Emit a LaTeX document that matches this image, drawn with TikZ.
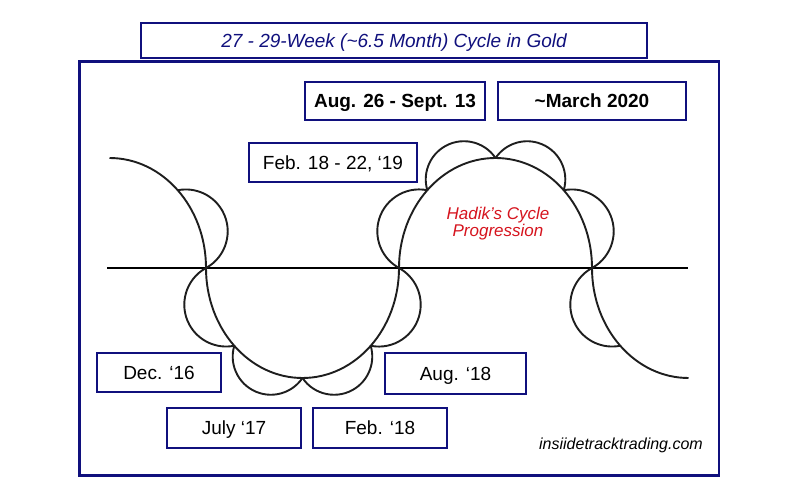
\documentclass[tikz,border=0pt]{standalone}
\usepackage{fontspec}
\setmainfont{Liberation Sans}
\usetikzlibrary{calc}
\definecolor{navy}{RGB}{16,16,125}
\definecolor{hred}{RGB}{214,20,30}
\definecolor{ink}{RGB}{30,30,30}
\begin{document}
\begin{tikzpicture}[x=1pt,y=1pt,
  lbl/.style={draw=navy,line width=2pt,inner sep=0pt,text height=13.6pt,text depth=0pt,
    font=\fontsize{19}{22}\selectfont},
  curve/.style={draw=ink,line width=1.9pt},
]
\useasboundingbox (0,0) rectangle (797,500);
\fill[white] (0,0) rectangle (797,500);
% frame
\draw[navy,line width=2.4pt] (79,438.5) rectangle (719,24.3);
\draw[navy,line width=3pt] (79,24.3) -- (79,438.5) -- (719,438.5);
% baseline
\draw[black,line width=1.3pt] (107,232) coordinate (l0) -- (688,232) coordinate (l1);
% big arcs (half ellipses)
\def\ea{96.5}\def\eb{110}
\draw[curve] ($(109.5,232)+(0:\ea pt and \eb pt)$) arc[start angle=0,end angle=90,x radius=\ea pt,y radius=\eb pt];
\draw[curve] ($(302.5,232)+(180:\ea pt and \eb pt)$) arc[start angle=180,end angle=360,x radius=\ea pt,y radius=\eb pt];
\draw[curve] ($(495.5,232)+(0:\ea pt and \eb pt)$) arc[start angle=0,end angle=180,x radius=\ea pt,y radius=\eb pt];
\draw[curve] ($(688.5,232)+(180:\ea pt and \eb pt)$) arc[start angle=180,end angle=270,x radius=\ea pt,y radius=\eb pt];
% scallops (circular arcs bulging outward)
\foreach \cx/\t in {109.5/0, 302.5/180, 302.5/225, 302.5/270, 302.5/315, 495.5/0, 495.5/45, 495.5/90, 495.5/135, 688.5/180}{
  \pgfmathsetmacro{\u}{\t+45}
  \coordinate (sa) at ($(\cx,232)+(\t:\ea pt and \eb pt)$);
  \coordinate (sb) at ($(\cx,232)+(\u:\ea pt and \eb pt)$);
  \draw[curve] let \p1=(sa), \p2=(sb), \n1={atan2(\y2-\y1,\x2-\x1)}, \n2={veclen(\x2-\x1,\y2-\y1)} in
    (sa) arc[start angle=\n1+188.8, delta angle=162.4, radius=0.506*\n2];
}
% title
\node[lbl,minimum width=506pt,minimum height=35pt,text=navy] (title) at (394,459.5)
  {\itshape 27 - 29-Week (\textasciitilde6.5 Month) Cycle in Gold};
% labels
\node[lbl,minimum width=180pt,minimum height=38pt] (aug26) at (395,399) {\bfseries Aug. 26 - Sept. 13};
\node[lbl,minimum width=188pt,minimum height=38pt] (mar20) at (592,399) {\bfseries \textasciitilde March 2020};
\node[lbl,minimum width=168pt,minimum height=39pt] (feb19) at (333,337.5) {Feb. 18 - 22, ‘19};
\node[lbl,minimum width=124pt,minimum height=39pt] (dec16) at (159,127.5) {Dec. ‘16};
\node[lbl,minimum width=141pt,minimum height=41pt] (aug18) at (455.5,126.5) {Aug. ‘18};
\node[lbl,minimum width=134pt,minimum height=40pt] (jul17) at (234,72) {July ‘17};
\node[lbl,minimum width=134pt,minimum height=40pt] (feb18) at (380,72) {Feb. ‘18};
% inner text
\node[text=hred,align=center,font=\fontsize{17}{17}\selectfont\itshape,inner sep=0pt] (hadik) at (498,276)
  {Hadik’s Cycle\\Progression};
\node[font=\fontsize{16}{18}\selectfont\itshape,inner sep=0pt] (web) at (621,55) {insiidetracktrading.com};
\end{tikzpicture}
\end{document}
